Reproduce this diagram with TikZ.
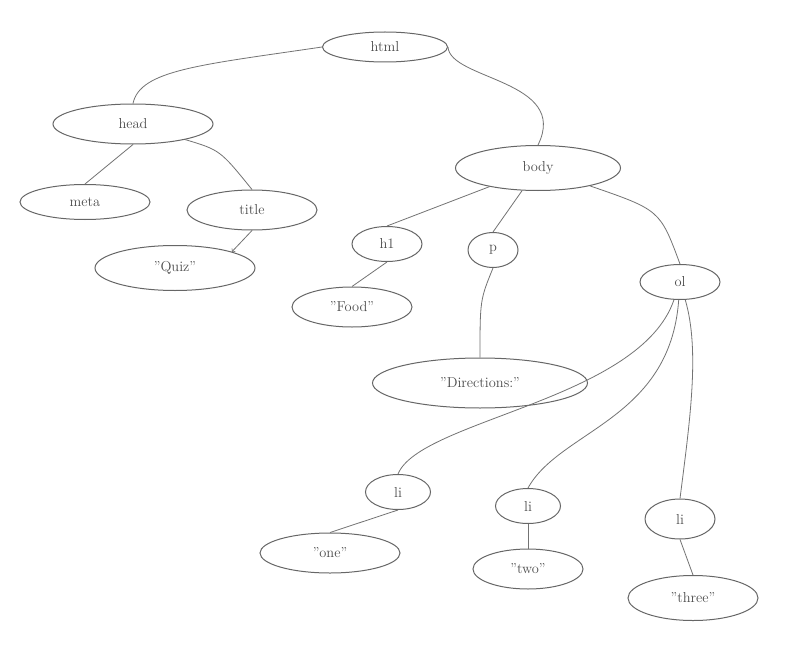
\documentclass[tikz,border=0pt]{standalone}
\usetikzlibrary{shapes.geometric}
\begin{document}
\begin{tikzpicture}[x=1pt,y=-1pt,
  nd/.style={ellipse,draw=black!60,line width=1pt,inner sep=0pt,text=black!70,font=\Large},
  ed/.style={draw=black!55,line width=0.8pt}]
\useasboundingbox[fill=white] (0,0) rectangle (800,666);
\node[nd,minimum width=125,minimum height=30] (html) at (385,47) {html};
\node[nd,minimum width=160,minimum height=40] (head) at (133,124) {head};
\node[nd,minimum width=130,minimum height=35] (meta) at (85,202) {meta};
\node[nd,minimum width=130,minimum height=40] (title) at (252,210) {title};
\node[nd,minimum width=160,minimum height=45] (quiz) at (175,268) {"Quiz"};
\node[nd,minimum width=165,minimum height=45] (body) at (538,168) {body};
\node[nd,minimum width=70,minimum height=35] (h1) at (387,244) {h1};
\node[nd,minimum width=50,minimum height=35] (p) at (493,250) {p};
\node[nd,minimum width=80,minimum height=35] (ol) at (680,282) {ol};
\node[nd,minimum width=120,minimum height=40] (food) at (352,307) {"Food"};
\node[nd,minimum width=215,minimum height=50] (dir) at (480,383) {"Directions:"};
\node[nd,minimum width=65,minimum height=35] (li1) at (398,492) {li};
\node[nd,minimum width=65,minimum height=35] (li2) at (528,506) {li};
\node[nd,minimum width=70,minimum height=40] (li3) at (680,519) {li};
\node[nd,minimum width=140,minimum height=40] (one) at (330,553) {"one"};
\node[nd,minimum width=110,minimum height=40] (two) at (528,569) {"two"};
\node[nd,minimum width=130,minimum height=45] (three) at (693,598) {"three"};
\draw[ed] (html.west) .. controls (200,65) and (140,70) .. (head.north);
\draw[ed] (html.east) .. controls (450,80) and (570,80) .. (body.north);
\draw[ed] (head.south) -- (meta.north);
\draw[ed] (head) .. controls (220,150) .. (title.north);
\draw[ed,->] (title.south) -- (quiz.north east);
\draw[ed] (body) -- (h1.north);
\draw[ed] (body) -- (p.north);
\draw[ed] (body) .. controls (660,210) .. (ol.north);
\draw[ed] (h1.south) -- (food.north);
\draw[ed] (p.south) .. controls (480,300) .. (dir.north);
\draw[ed] (ol) .. controls (640,400) and (420,420) .. (li1.north);
\draw[ed] (ol) .. controls (670,420) and (560,430) .. (li2.north);
\draw[ed] (ol) .. controls (700,350) and (690,420) .. (li3.north);
\draw[ed] (li1.south) -- (one.north);
\draw[ed] (li2.south) -- (two.north);
\draw[ed] (li3.south) -- (three.north);
\end{tikzpicture}
\end{document}
